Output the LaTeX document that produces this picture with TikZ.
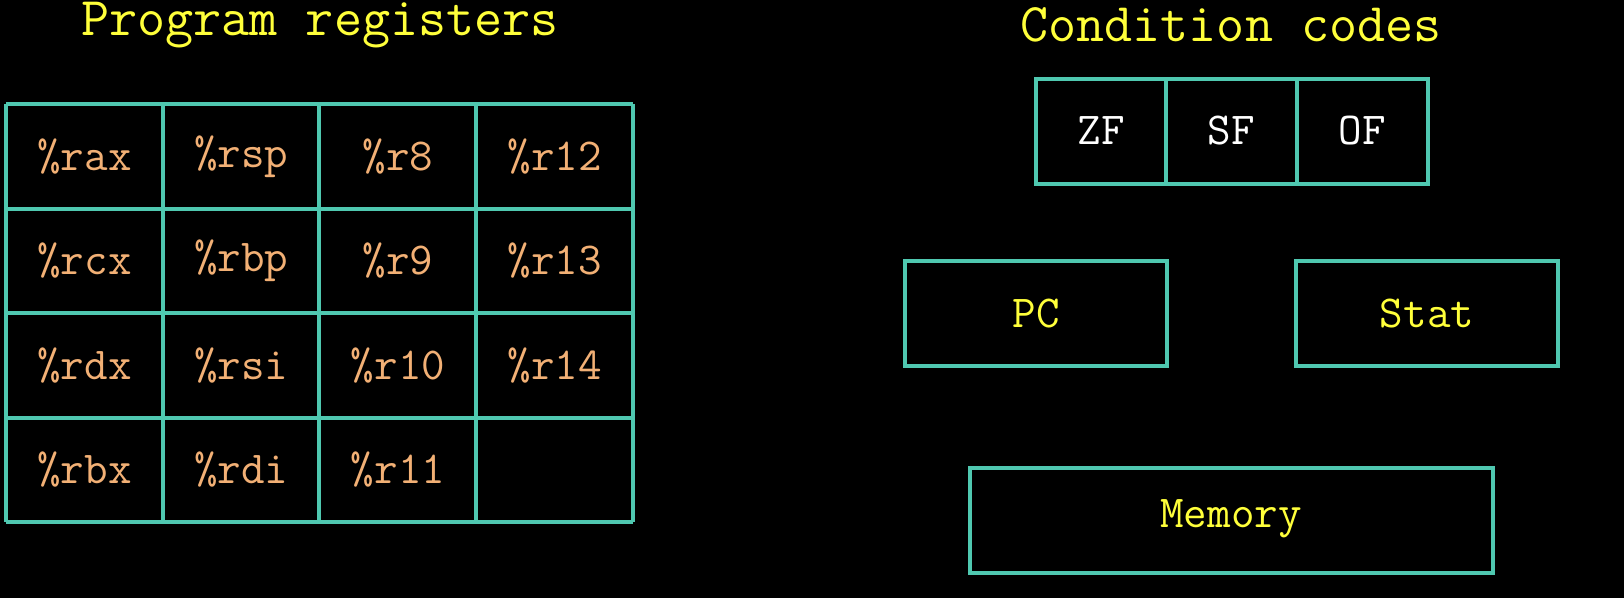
\documentclass[tikz,border=0pt]{standalone}
\renewcommand{\familydefault}{\ttdefault}
\begin{document}
\begin{tikzpicture}[x=0.01cm,y=-0.01cm]
\definecolor{teal}{HTML}{4FC8B0}
\definecolor{yel}{HTML}{FFFF3A}
\definecolor{org}{HTML}{F2B075}
\tikzset{box/.style={draw=teal,line width=1.2pt},
reg/.style={text=org,font=\fontsize{13}{15}\selectfont},
lab/.style={text=yel,font=\fontsize{13}{15}\selectfont},
ttl/.style={text=yel,font=\fontsize{15.5}{18}\selectfont}}
\fill[black] (0,0) rectangle (1624,598);
\node[ttl,anchor=base] (t1) at (320,36) {Program registers};
\node[ttl,anchor=base] (t2) at (1231,42) {Condition codes};
\foreach \x in {6,163,319,476,633} \draw[box] (\x,104) -- (\x,522);
\foreach \y in {104,209,313,418,522} \draw[box] (6,\y) -- (633,\y);
\foreach \t [count=\i from 0] in {{\%rax},{\%rsp},{\%r8},{\%r12},{\%rcx},{\%rbp},{\%r9},{\%r13},{\%rdx},{\%rsi},{\%r10},{\%r14},{\%rbx},{\%rdi},{\%r11},{}}{
 \pgfmathsetmacro\cx{84.5+156.75*mod(\i,4)}
 \pgfmathsetmacro\cy{156.5+104.5*int(\i/4)}
 \node[reg] (r\i) at (\cx,\cy) {\t};}
\draw[box] (1036,79) rectangle (1428,184);
\draw[box] (1166,79) -- (1166,184);
\draw[box] (1297,79) -- (1297,184);
\node[text=white,font=\fontsize{13}{15}\selectfont] (zf) at (1101,131) {ZF};
\node[text=white,font=\fontsize{13}{15}\selectfont] (sf) at (1231,131) {SF};
\node[text=white,font=\fontsize{13}{15}\selectfont] (of) at (1362,131) {OF};
\draw[box] (905,261) rectangle (1167,366);
\node[lab] (pc) at (1036,314) {PC};
\draw[box] (1296,261) rectangle (1558,366);
\node[lab] (st) at (1427,314) {Stat};
\draw[box] (970,468) rectangle (1493,573);
\node[lab] (mem) at (1231,519) {Memory};
\pgfresetboundingbox
\useasboundingbox (0,0) rectangle (1624,598);
\end{tikzpicture}
\end{document}
